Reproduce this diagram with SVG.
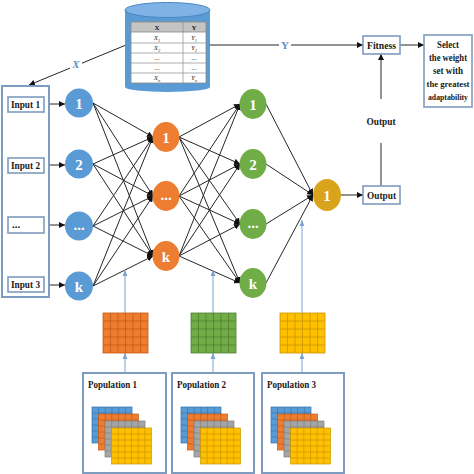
<svg xmlns="http://www.w3.org/2000/svg" xmlns:xlink="http://www.w3.org/1999/xlink" width="474" height="474" viewBox="0 0 474 474">
<style>
text{font-family:"Liberation Serif","DejaVu Serif","Times New Roman",serif;font-weight:bold;fill:#1a1a1a}
.box{fill:#fff;stroke:#7e9cbf;stroke-width:1.6}
.big{fill:#fff;stroke:#7e9cbf;stroke-width:2}
.lbl{font-size:11px}
.nl{font-size:15px;fill:#fff;text-anchor:middle}
.c{stroke:#262626;stroke-width:1;fill:none;marker-end:url(#ah)}
.pl{stroke:#8fb4d9;stroke-width:1.2;fill:none;marker-end:url(#bh)}
.tb{font-size:7px;font-style:italic;font-weight:normal;fill:#333;text-anchor:middle}
</style>
<defs>
<marker id="ah" viewBox="0 0 10 10" refX="10" refY="5" markerWidth="6" markerHeight="6" markerUnits="userSpaceOnUse" orient="auto"><path d="M0,0L10,5L0,10z" fill="#111"/></marker>
<marker id="bh" viewBox="0 0 10 10" refX="10" refY="5" markerWidth="6" markerHeight="6" markerUnits="userSpaceOnUse" orient="auto"><path d="M0,1L10,5L0,9z" fill="#7aa3cf"/></marker>
<g id="gO"><rect width="45" height="40" fill="#ed7d31"/><path d="M7.5,0V40M15,0V40M22.5,0V40M30,0V40M37.5,0V40M0,8H45M0,16H45M0,24H45M0,32H45" stroke="#c55a11" stroke-width="0.8"/><rect width="45" height="40" fill="none" stroke="#c55a11" stroke-width="0.8"/></g>
<g id="gG"><rect width="45" height="40" fill="#70ad47"/><path d="M7.5,0V40M15,0V40M22.5,0V40M30,0V40M37.5,0V40M0,8H45M0,16H45M0,24H45M0,32H45" stroke="#507e32" stroke-width="0.8"/><rect width="45" height="40" fill="none" stroke="#507e32" stroke-width="0.8"/></g>
<g id="gY"><rect width="45" height="40" fill="#ffc000"/><path d="M7.5,0V40M15,0V40M22.5,0V40M30,0V40M37.5,0V40M0,8H45M0,16H45M0,24H45M0,32H45" stroke="#c99700" stroke-width="0.8"/><rect width="45" height="40" fill="none" stroke="#c99700" stroke-width="0.8"/></g>
<path id="sg" d="M6.67,0V36M13.33,0V36M20,0V36M26.67,0V36M33.33,0V36M0,6H40M0,12H40M0,18H40M0,24H40M0,30H40" stroke-width="0.7" fill="none"/>
<g id="stack">
<rect x="9" y="34" width="40" height="36" fill="#5b9bd5" stroke="#2e75b6" stroke-width="0.7"/><use xlink:href="#sg" x="9" y="34" stroke="#2e75b6"/>
<rect x="15.5" y="41" width="40" height="36" fill="#ed7d31" stroke="#c55a11" stroke-width="0.7"/><use xlink:href="#sg" x="15.5" y="41" stroke="#c55a11"/>
<rect x="22" y="48" width="40" height="36" fill="#a5a5a5" stroke="#7f7f7f" stroke-width="0.7"/><use xlink:href="#sg" x="22" y="48" stroke="#7f7f7f"/>
<rect x="28.5" y="55" width="40" height="36" fill="#ffc000" stroke="#c99700" stroke-width="0.7"/><use xlink:href="#sg" x="28.5" y="55" stroke="#c99700"/>
</g>
</defs>
<rect width="474" height="474" fill="#fff"/>

<g id="connectors">
<path class="c" d="M44,104H65"/>
<path class="c" d="M44,165H65"/>
<path class="c" d="M44,225H65"/>
<path class="c" d="M44,285H65"/>
<path class="c" d="M93,103L153,137"/><path class="c" d="M93,103L153,196"/><path class="c" d="M93,103L153,256"/>
<path class="c" d="M93,164L153,137"/><path class="c" d="M93,164L153,196"/><path class="c" d="M93,164L153,256"/>
<path class="c" d="M93,226L153,137"/><path class="c" d="M93,226L153,196"/><path class="c" d="M93,226L153,256"/>
<path class="c" d="M93,286L153,137"/><path class="c" d="M93,286L153,196"/><path class="c" d="M93,286L153,256"/>
<path class="c" d="M179,137L240,104"/><path class="c" d="M179,137L240,164"/><path class="c" d="M179,137L240,224"/><path class="c" d="M179,137L240,283"/>
<path class="c" d="M179,196L240,104"/><path class="c" d="M179,196L240,164"/><path class="c" d="M179,196L240,224"/><path class="c" d="M179,196L240,283"/>
<path class="c" d="M179,256L240,104"/><path class="c" d="M179,256L240,164"/><path class="c" d="M179,256L240,224"/><path class="c" d="M179,256L240,283"/>
<path class="c" d="M266,104L313,195"/><path class="c" d="M266,164L313,195"/><path class="c" d="M266,224L313,195"/><path class="c" d="M266,283L313,195"/>
<path class="c" d="M341,195H363"/>
<path d="M381,186V143" stroke="#262626" stroke-width="1" fill="none"/>
<path class="c" d="M381,99V54"/>
<path class="c" d="M400,45H424"/>
<path class="c" d="M210,45H363"/>
<path class="c" d="M126,45L29,85"/>
<path class="pl" d="M125,313V270"/>
<path class="pl" d="M213,313V270"/>
<path class="pl" d="M302,313V220"/>
<path class="pl" d="M125,373V353"/>
<path class="pl" d="M213,373V353"/>
<path class="pl" d="M302,373V353"/>
</g>

<rect x="70" y="58" width="12" height="12" fill="#fff"/>
<text x="76" y="68" font-size="11" style="fill:#5b8fc7;font-style:italic" text-anchor="middle">X</text>
<rect x="279" y="38" width="12" height="13" fill="#fff"/>
<text x="285" y="49" font-size="11" style="fill:#5b8fc7" text-anchor="middle">Y</text>

<g id="database">
<rect x="125" y="10" width="85" height="77" fill="#5b9bd5"/>
<ellipse cx="167.5" cy="87" rx="42.5" ry="5" fill="#5b9bd5"/>
<ellipse cx="167.5" cy="10" rx="42.5" ry="7.5" fill="#7fb2e5" stroke="#4a86c5" stroke-width="1"/>
<rect x="131" y="22" width="75" height="61" fill="#fff" stroke="#8a8a8a" stroke-width="0.8"/>
<rect x="131" y="22" width="75" height="10" fill="#c4c4c4" stroke="#8a8a8a" stroke-width="0.8"/>
<path d="M131,43H206M131,53H206M131,63H206M131,73H206M183,22V83" stroke="#8a8a8a" stroke-width="0.7"/>
<text x="157" y="30" font-size="7" text-anchor="middle">X</text>
<text x="194" y="30" font-size="7" text-anchor="middle">Y</text>
<text class="tb" x="157" y="40">X<tspan font-size="4.5" dy="1.5">1</tspan></text>
<text class="tb" x="194" y="40">Y<tspan font-size="4.5" dy="1.5">1</tspan></text>
<text class="tb" x="157" y="50">X<tspan font-size="4.5" dy="1.5">2</tspan></text>
<text class="tb" x="194" y="50">Y<tspan font-size="4.5" dy="1.5">2</tspan></text>
<text class="tb" x="157" y="60">...</text>
<text class="tb" x="194" y="60">...</text>
<text class="tb" x="157" y="70">...</text>
<text class="tb" x="194" y="70">...</text>
<text class="tb" x="157" y="80">X<tspan font-size="4.5" dy="1.5">n</tspan></text>
<text class="tb" x="194" y="80">Y<tspan font-size="4.5" dy="1.5">n</tspan></text>
</g>

<g id="inputs">
<rect class="big" x="2" y="86" width="47" height="211"/>
<g id="in1"><rect class="box" x="8" y="97" width="36" height="15"/><text class="lbl" x="11" y="108" textLength="29" lengthAdjust="spacingAndGlyphs">Input 1</text></g>
<g id="in2"><rect class="box" x="8" y="158" width="36" height="15"/><text class="lbl" x="11" y="169" textLength="29" lengthAdjust="spacingAndGlyphs">Input 2</text></g>
<g id="in3"><rect class="box" x="8" y="217" width="36" height="16"/><text class="lbl" x="12" y="228">...</text></g>
<g id="in4"><rect class="box" x="8" y="277" width="36" height="15"/><text class="lbl" x="11" y="288" textLength="29" lengthAdjust="spacingAndGlyphs">Input 3</text></g>
</g>

<g id="layer1">
<g id="b1"><ellipse cx="79" cy="103" rx="14" ry="14.5" fill="#5b9bd5"/><text class="nl" x="79" y="108.5">1</text></g>
<g id="b2"><ellipse cx="79" cy="164" rx="14" ry="14.5" fill="#5b9bd5"/><text class="nl" x="79" y="169.5">2</text></g>
<g id="b3"><ellipse cx="79" cy="226" rx="14" ry="14.5" fill="#5b9bd5"/><text class="nl" x="79" y="230">...</text></g>
<g id="b4"><ellipse cx="79" cy="286" rx="14" ry="14.5" fill="#5b9bd5"/><text class="nl" x="79" y="291.5">k</text></g>
</g>
<g id="layer2">
<g id="o1"><ellipse cx="166" cy="137" rx="13.5" ry="15" fill="#ed7d31"/><text class="nl" x="166" y="142.5">1</text></g>
<g id="o2"><ellipse cx="166" cy="196" rx="13.5" ry="15" fill="#ed7d31"/><text class="nl" x="166" y="200">...</text></g>
<g id="o3"><ellipse cx="166" cy="256" rx="13.5" ry="15" fill="#ed7d31"/><text class="nl" x="166" y="261.5">k</text></g>
</g>
<g id="layer3">
<g id="g1"><ellipse cx="253" cy="104" rx="13.5" ry="15" fill="#70ad47"/><text class="nl" x="253" y="109.5">1</text></g>
<g id="g2"><ellipse cx="253" cy="164" rx="13.5" ry="15" fill="#70ad47"/><text class="nl" x="253" y="169.5">2</text></g>
<g id="g3"><ellipse cx="253" cy="224" rx="13.5" ry="15" fill="#70ad47"/><text class="nl" x="253" y="228">...</text></g>
<g id="g4"><ellipse cx="253" cy="283" rx="13.5" ry="15" fill="#70ad47"/><text class="nl" x="253" y="288.5">k</text></g>
</g>
<g id="outnode"><ellipse cx="327" cy="195" rx="14" ry="16" fill="#d9a41b"/><text class="nl" x="327" y="200.5">1</text></g>

<g id="outbox"><rect class="box" x="363" y="186" width="37" height="18"/><text class="lbl" x="367" y="199" textLength="29" lengthAdjust="spacingAndGlyphs">Output</text></g>
<text class="lbl" x="381" y="125" text-anchor="middle" textLength="29" lengthAdjust="spacingAndGlyphs">Output</text>
<g id="fitness"><rect class="box" x="363" y="36" width="37" height="18"/><text class="lbl" x="367" y="49" textLength="29" lengthAdjust="spacingAndGlyphs">Fitness</text></g>
<g id="select"><rect class="box" x="424" y="35" width="48" height="72" fill="#eef4fb"/>
<text font-size="9.5" text-anchor="middle" x="448" y="48" textLength="22" lengthAdjust="spacingAndGlyphs">Select</text>
<text font-size="9.5" text-anchor="middle" x="448" y="61" textLength="38" lengthAdjust="spacingAndGlyphs">the weight</text>
<text font-size="9.5" text-anchor="middle" x="448" y="74" textLength="30" lengthAdjust="spacingAndGlyphs">set with</text>
<text font-size="8.8" text-anchor="middle" x="448" y="87" textLength="43" lengthAdjust="spacingAndGlyphs">the greatest</text>
<text font-size="8.6" text-anchor="middle" x="448" y="100" textLength="40" lengthAdjust="spacingAndGlyphs">adaptability</text>
</g>

<g id="grids">
<use xlink:href="#gO" x="103" y="313"/>
<use xlink:href="#gG" x="191" y="313"/>
<use xlink:href="#gY" x="280" y="313"/>
</g>

<g id="pop1"><rect class="big" x="83" y="373" width="83" height="100"/><text class="lbl" x="88" y="388" textLength="49" lengthAdjust="spacingAndGlyphs">Population 1</text><use xlink:href="#stack" x="83" y="373"/></g>
<g id="pop2"><rect class="big" x="172" y="373" width="82" height="100"/><text class="lbl" x="177" y="388" textLength="49" lengthAdjust="spacingAndGlyphs">Population 2</text><use xlink:href="#stack" x="172" y="373"/></g>
<g id="pop3"><rect class="big" x="262" y="373" width="82" height="100"/><text class="lbl" x="267" y="388" textLength="49" lengthAdjust="spacingAndGlyphs">Population 3</text><use xlink:href="#stack" x="262" y="373"/></g>
</svg>
